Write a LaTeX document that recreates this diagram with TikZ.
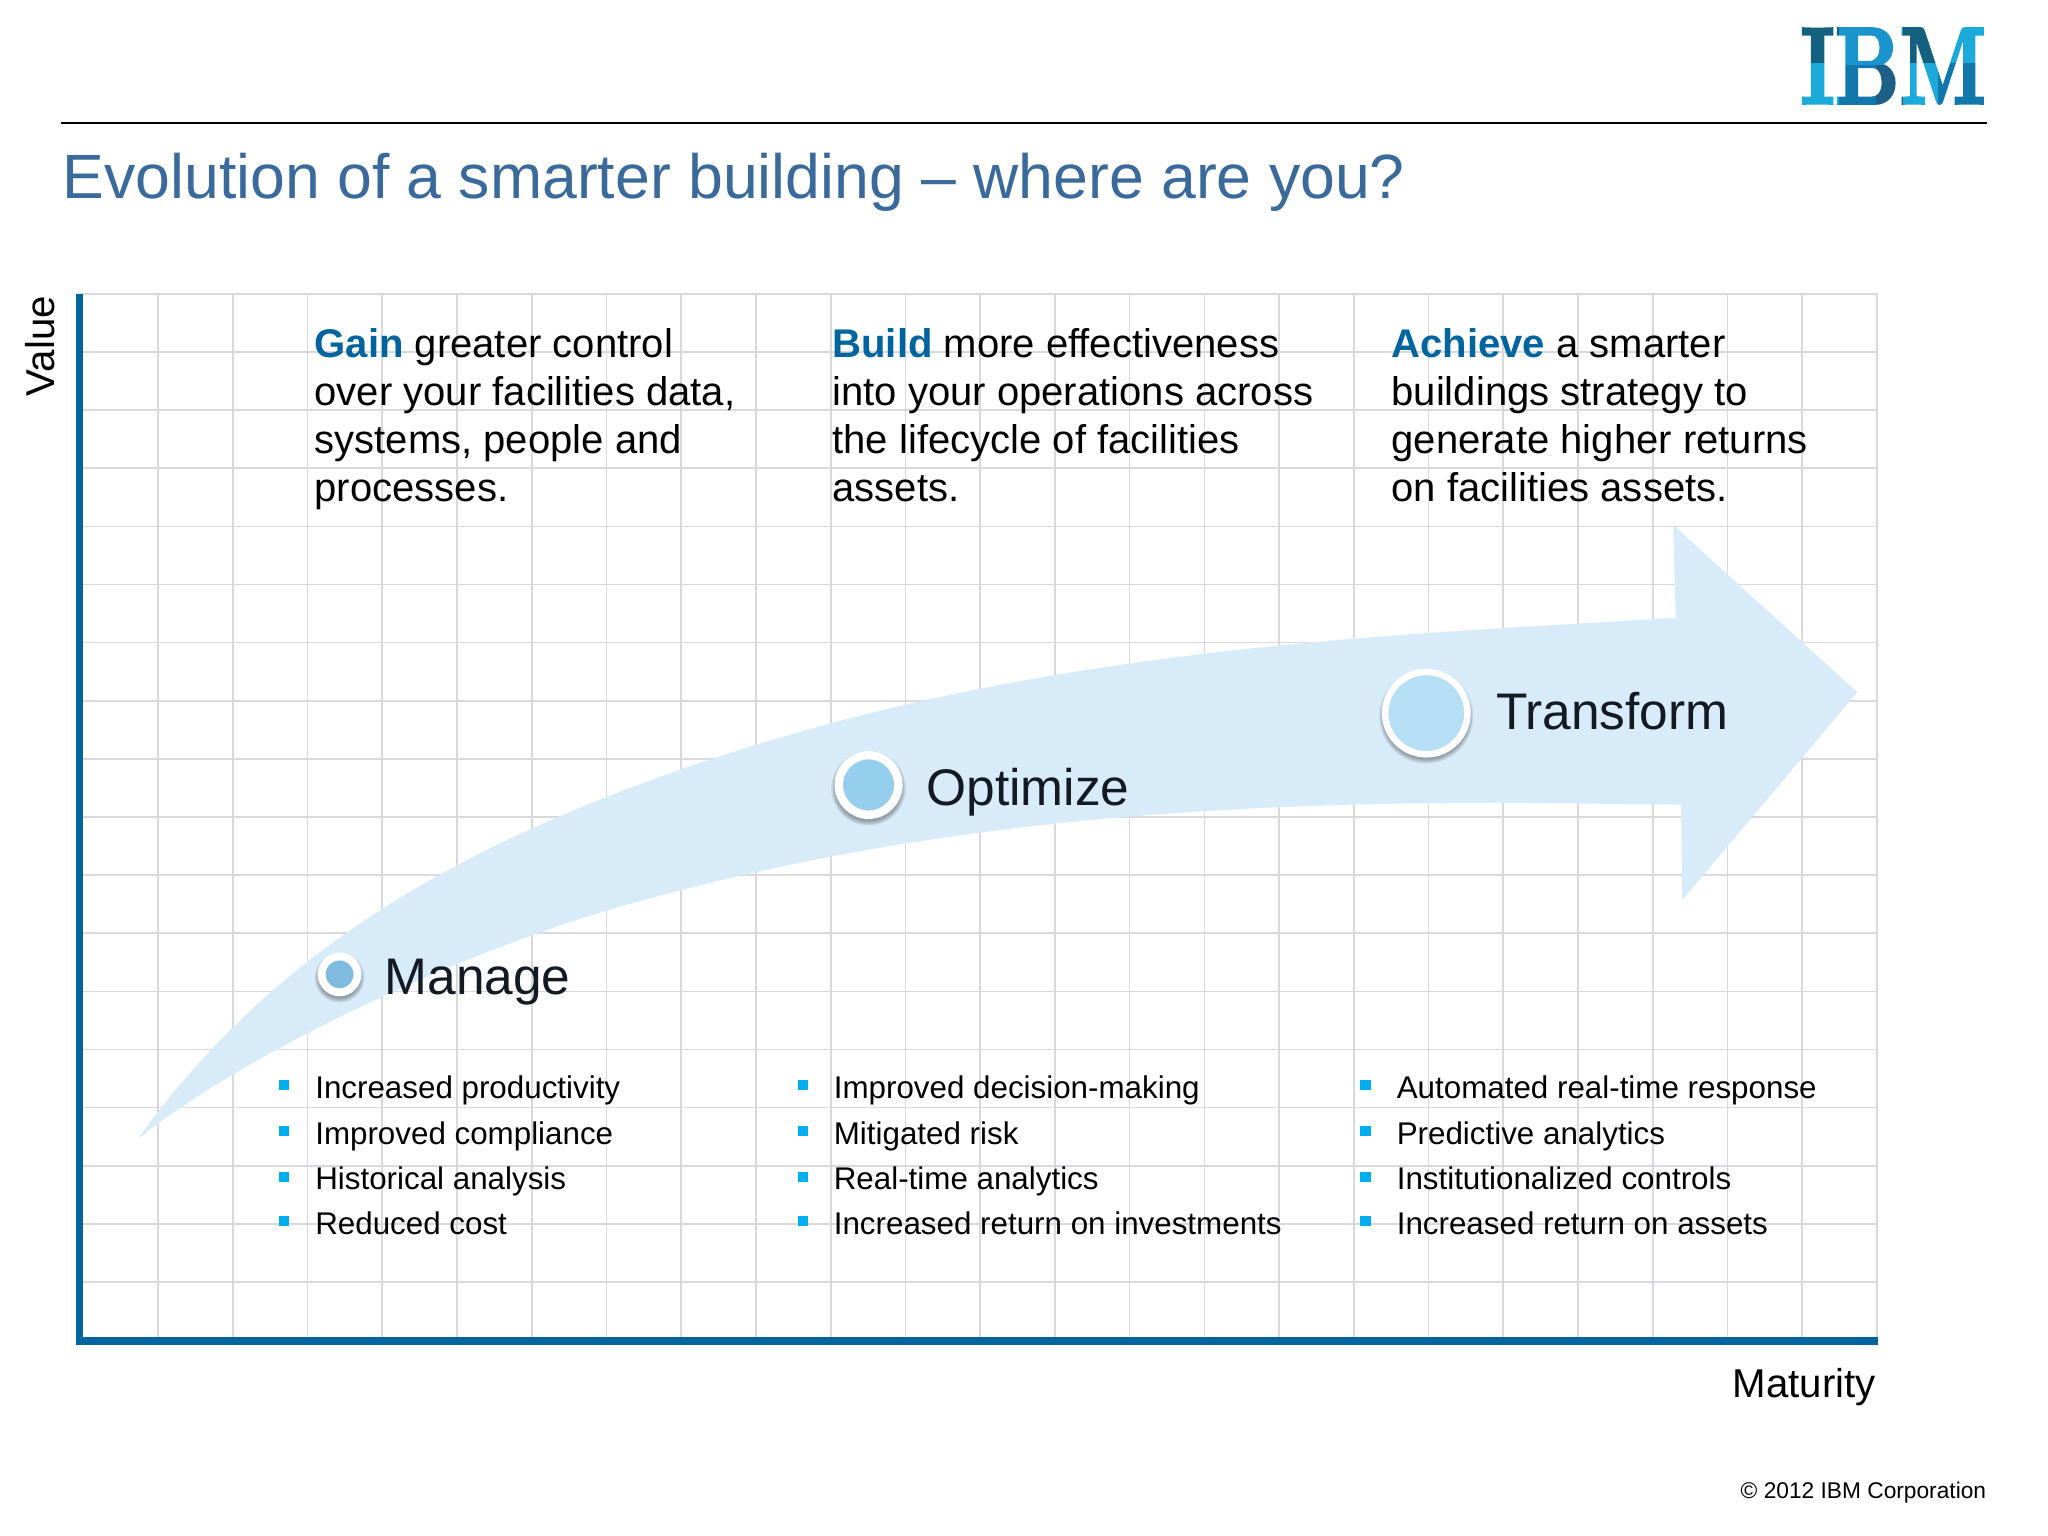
\documentclass[tikz,border=0pt]{standalone}
\usepackage{fontspec}
\setmainfont{Liberation Sans}
\usetikzlibrary{calc}
\definecolor{axisblue}{HTML}{00659F}
\definecolor{gridgray}{HTML}{DAD8DE}
\definecolor{arrowblue}{HTML}{D8EBF8}
\definecolor{titleblue}{HTML}{3A6A9C}
\definecolor{bulletblue}{HTML}{00AEEF}
\definecolor{stagetext}{HTML}{141A24}
\definecolor{dotone}{HTML}{7FBBDF}
\definecolor{dottwo}{HTML}{96CFEE}
\definecolor{dotthree}{HTML}{B6DFF6}
\definecolor{logodark}{HTML}{14607F}
\definecolor{logocyan}{HTML}{1BAAD9}
\definecolor{logomid}{HTML}{1A94CC}
\definecolor{logodeep}{HTML}{1278AB}
\definecolor{logoink}{HTML}{1D5F86}
\tikzset{
 gridline/.style={draw=gridgray,line width=0.65pt},
 axisline/.style={draw=axisblue,line width=2.9pt},
 lead/.style={anchor=north west,inner sep=0pt,align=left,font=\fontsize{15.33}{18.35}\selectfont},
 gains/.style={anchor=north west,inner sep=0pt,align=left,font=\fontsize{12}{17.35}\selectfont},
 bulletmark/.style={fill=bulletblue,inner sep=0pt,minimum width=3.9pt,minimum height=3.9pt},
 stagedot/.style={circle,draw=white,inner sep=0pt},
 dotshade/.style={fill=black,opacity=0.09},
 stagelabel/.style={anchor=base west,inner sep=0pt,text=stagetext,font=\fontsize{19.7}{21}\selectfont},
 axislabel/.style={inner sep=0pt,font=\fontsize{15.4}{18}\selectfont},
}
\newcommand{\hl}[1]{\textcolor{axisblue}{\textbf{#1}}}
\begin{document}
\begin{tikzpicture}[x=0.5pt,y=-0.5pt]
\useasboundingbox (0,0) rectangle (1568,1176);
\fill[white] (0,0) rectangle (1568,1176);
% grid
\foreach \k in {0,...,23} \draw[gridline] ({121+57.22*\k},225) -- ({121+57.22*\k},1026);
\foreach \k in {0,...,17} \draw[gridline] (60,{225+44.5*\k}) -- (1438,{225+44.5*\k});
% arrow
\fill[arrowblue] (105.5,872) .. controls (190,755) and (300,675) .. (465,610)
  .. controls (693,520) and (921,495) .. (1149,481) -- (1283,473)
  -- (1281,402) -- (1422,530) -- (1288,689) -- (1287,616) -- (1149,614.6)
  .. controls (921,614.6) and (693,630) .. (465,697)
  .. controls (345,733) and (190,805) .. (105.5,872) -- cycle;
% axes
\draw[axisline] (61,225) -- (61,1026.5) -- (1438,1026.5);
% header
\draw[black,line width=0.8pt] (47,94) -- (1521,94);
% logo
\node[anchor=south west,inner sep=0pt] (logo) at (1378,79.5) {\resizebox{71pt}{28.5pt}{\fontspec{Latin Modern Roman}[FakeBold=3]\bfseries IBM}};
\begin{scope}[blend mode=screen]
 \fill[logodark] (1374,18) rectangle (1408,48.5);
 \fill[logocyan] (1374,48.5) rectangle (1408,84);
 \fill[logomid] (1408,18) rectangle (1457,50);
 \fill[logodeep] (1408,50) rectangle (1436,84);
 \fill[logoink] (1436,50) rectangle (1457,84);
 \fill[logodark] (1457,18) rectangle (1488,48.5);
 \fill[logocyan] (1488,18) rectangle (1524,48.5);
 \fill[logocyan] (1457,48.5) rectangle (1484,84);
 \fill[logodeep] (1484,48.5) rectangle (1524,84);
\end{scope}
% title
\node[anchor=base west,inner sep=0pt,text=titleblue,font=\fontsize{23.95}{28}\selectfont] (title) at (47.5,152) {Evolution of a smarter building – where are you?};
% axis labels
\node[axislabel,anchor=base,rotate=90] (value) at (42,265) {Value};
\node[axislabel,anchor=base east] (maturity) at (1436.5,1070) {Maturity};
\node[anchor=base east,inner sep=0pt,font=\fontsize{8.7}{10}\selectfont] (copy) at (1521,1147) {© 2012 IBM Corporation};
% leads
\node[lead] (gain) at (240.5,251) {\hl{Gain} greater control\\over your facilities data,\\systems, people and\\processes.};
\node[lead] (build) at (637,251) {\hl{Build} more effectiveness\\into your operations across\\the lifecycle of facilities\\assets.};
\node[lead] (achieve) at (1065,251) {\hl{Achieve} a smarter\\buildings strategy to\\generate higher returns\\on facilities assets.};
% stages
\foreach \cx/\cy/\rr in {260/746/17,665/601/26.5,1092/546/34} \foreach \gg in {0,1,2,3}
  \fill[dotshade] (\cx,\cy+2.5) circle[radius={(\rr-1+\gg)*0.5pt}];
\node[stagedot,fill=dotone,line width=3pt,minimum size=13.7pt] (d1) at (260,746) {};
\node[stagedot,fill=dottwo,line width=3.2pt,minimum size=22.8pt] (d2) at (665,601) {};
\node[stagedot,fill=dotthree,line width=2.5pt,minimum size=31.5pt] (d3) at (1092,546) {};
\node[stagelabel] (manage) at (294,761.5) {Manage};
\node[stagelabel] (optimize) at (709,616.5) {Optimize};
\node[stagelabel] (transform) at (1145,558.5) {Transform};
% lists
\node[gains] (l1) at (241,823.5) {Increased productivity\\Improved compliance\\Historical analysis\\Reduced cost};
\node[gains] (l2) at (638,823.5) {Improved decision-making\\Mitigated risk\\Real-time analytics\\Increased return on investments};
\node[gains] (l3) at (1069,823.5) {Automated real-time response\\Predictive analytics\\Institutionalized controls\\Increased return on assets};
\foreach \xx in {217.5,614.5,1045.5} \foreach \yy in {831,866,901,935}
  \node[bulletmark] at (\xx,\yy) {};
\end{tikzpicture}
\end{document}
